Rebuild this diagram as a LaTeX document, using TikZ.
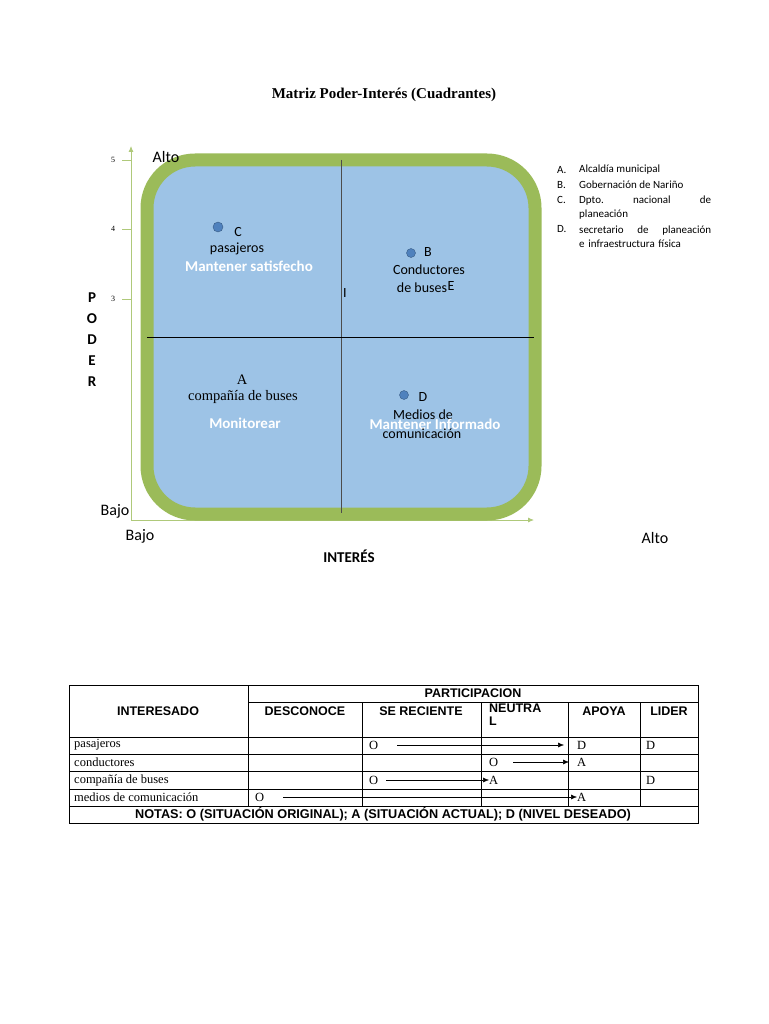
\documentclass[tikz,border=0pt]{standalone}
\usepackage{fontspec}
\setmainfont{Liberation Serif}
\newfontfamily\calfnt{Carlito}
\newfontfamily\arifnt{Liberation Sans}
\usetikzlibrary{arrows.meta}
\definecolor{gr}{RGB}{155,187,89}
\definecolor{bl}{RGB}{157,195,230}
\definecolor{dot}{RGB}{79,129,189}
\begin{document}
\begin{tikzpicture}[x=1pt,y=-1pt,
  lab/.style={font=\calfnt\fontsize{14}{15}\selectfont,inner sep=0pt},
  big/.style={font=\calfnt\fontsize{16}{17}\selectfont,inner sep=0pt},
  wlab/.style={font=\calfnt\bfseries\fontsize{15}{16}\selectfont,text=white,inner sep=0pt},
  ser/.style={font=\fontsize{14.5}{15}\selectfont,inner sep=0pt},
  leg/.style={font=\calfnt\fontsize{11}{14.5}\selectfont,inner sep=0pt,anchor=west},
  pt/.style={circle,fill=dot,draw=dot!70!black,line width=0.4pt,minimum size=10pt,inner sep=0pt},
  th/.style={font=\arifnt\bfseries\fontsize{12.5}{13}\selectfont,inner sep=0pt},
  td/.style={font=\fontsize{12.5}{13}\selectfont,inner sep=0pt,anchor=west},
  arr/.style={-{Latex[length=6pt,width=5pt]},line width=0.5pt}]
\useasboundingbox (0,0) rectangle (768,1024);
\node[font=\bfseries\fontsize{15}{16}\selectfont] (title) at (384,95) {Matriz Poder-Interés (Cuadrantes)};
% axes
\coordinate (o) at (131,520);
\coordinate (ytop) at (131,146);
\coordinate (xend) at (534,520);
\draw[gr!80,line width=0.8pt,-{Latex[length=6pt,width=5pt]}] (o) -- (ytop);
\draw[gr!80,line width=0.8pt,-{Latex[length=6pt,width=5pt]}] (o) -- (xend);
\foreach \yy/\t in {160/5,229/4,299/3}{
  \draw[gr!80,line width=0.6pt] (122,\yy) -- (131,\yy);
  \node[font=\fontsize{8}{9}\selectfont,inner sep=0pt] at (113,\yy) {\t};}
% box
\draw[gr,line width=13pt,fill=bl,rounded corners=48pt] (147,160) rectangle (535,514);
\draw[black!70,line width=0.6pt] (341,160) -- (341,513);
\draw[black,line width=0.6pt] (147,337) -- (534,337);
\node[big] (alto1) at (166,157) {Alto};
\node[big] (bajo1) at (115,511) {Bajo};
\node[big] (bajo2) at (140,536) {Bajo};
\node[big] (alto2) at (655,538) {Alto};
\node[big,font=\calfnt\bfseries\fontsize{15}{16}\selectfont] (int) at (349,556) {INTERÉS};
\foreach \c [count=\i] in {P,O,D,E,R}
  \node[big,font=\calfnt\bfseries\fontsize{15}{16}\selectfont] (pod\i) at (92,277+21*\i) {\c};
% points
\node[pt] (c) at (218,227) {}; \node[lab] (cl) at (238,232) {C};
\node[lab] (pas) at (237,249) {pasajeros};
\node[wlab] (q1) at (249,266) {Mantener satisfecho};
\node[pt,minimum size=9pt] (b) at (411,253) {}; \node[lab] (bl) at (428,252) {B};
\node[lab] (cond) at (429,270) {Conductores};
\node[lab] (deb) at (422,288) {de buses};
\node[lab] (e) at (451,286) {E};
\node[lab] (i) at (345,293) {I};
\node[ser] (al) at (242,380) {A};
\node[ser] (comp) at (243,397) {compañía de buses};
\node[wlab] (q3) at (245,423) {Monitorear};
\node[pt,minimum size=9pt] (d) at (404,395) {}; \node[lab] (dl) at (423,397) {D};
\node[lab] (med) at (423,415) {Medios de};
\node[wlab] (q4) at (435,424) {Mantener Informado};
\node[lab] (comu) at (422,434) {comunicación};
% legend
\node[leg] (la) at (557,170) {A.}; \node[leg] (lat) at (579,170) {Alcaldía municipal};
\node[leg] (lb) at (557,185) {B.}; \node[leg] (lbt) at (579,185) {Gobernación de Nariño};
\node[leg] (lc) at (557,200) {C.}; \node[leg,text width=132pt] (lct) at (579,207.5) {Dpto.\hfill nacional\hfill de\\ planeación};
\node[leg] (ld) at (557,229) {D.}; \node[leg,text width=132pt] (ldt) at (579,236.5) {secretario\hfill de\hfill planeación\\ e infraestructura física};
% table
\draw[line width=0.6pt] (69,685) rectangle (698,823);
\draw (248,685) -- (248,806);
\draw (248,702) -- (698,702);
\foreach \xx in {362,481,568,640} \draw (\xx,702) -- (\xx,806);
\foreach \yy in {737,754,771,789,806} \draw (69,\yy) -- (698,\yy);
\node[th] (hint) at (158,711) {INTERESADO};
\node[th] (hpar) at (473,693) {PARTICIPACION};
\node[th] (h1) at (305,711) {DESCONOCE};
\node[th] (h2) at (421,711) {SE RECIENTE};
\node[th,anchor=north west,align=left] (h3) at (489,704) {NEUTRA\\L};
\node[th] (h4) at (604,711) {APOYA};
\node[th] (h5) at (669,711) {LIDER};
\node[td] (r1) at (74,745) {pasajeros};
\node[td] (r2) at (74,762) {conductores};
\node[td] (r3) at (74,780) {compañía de buses};
\node[td] (r4) at (74,797) {medios de comunicación};
\node[td] (o1) at (369,745) {O}; \coordinate (s1) at (397,745); \node[td] (d1) at (577,745) {D}; \node[td] (d1b) at (646,745) {D};
\draw[arr] (s1) -- (564,745);
\node[td] (o2) at (489,762) {O}; \coordinate (s2) at (513,762); \node[td] (a2) at (577,762) {A};
\draw[arr] (s2) -- (569,762);
\node[td] (o3) at (369,780) {O}; \coordinate (s3) at (386,780); \node[td] (a3) at (489,780) {A}; \node[td] (d3) at (646,780) {D};
\draw[arr] (s3) -- (a3.west);
\node[td] (o4) at (255,797) {O}; \coordinate (s4) at (283,797); \node[td] (a4) at (577,797) {A};
\draw[arr] (s4) -- (a4.west);
\node[th,font=\arifnt\bfseries\fontsize{12.7}{13}\selectfont] (notas) at (383,814) {NOTAS: O (SITUACIÓN ORIGINAL); A (SITUACIÓN ACTUAL); D (NIVEL DESEADO)};
\end{tikzpicture}
\end{document}
